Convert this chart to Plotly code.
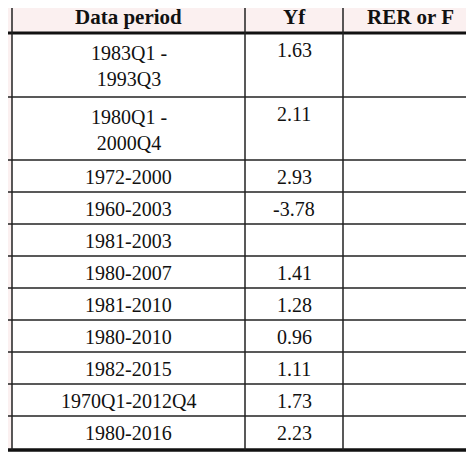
import plotly.graph_objects as go

headers = ["Data period", "Yf", "RER or F"]
periods = ["1983Q1 -<br>1993Q3", "1980Q1 -<br>2000Q4", "1972-2000", "1960-2003", "1981-2003",
           "1980-2007", "1981-2010", "1980-2010", "1982-2015", "1970Q1-2012Q4", "1980-2016"]
yf = ["1.63", "2.11", "2.93", "-3.78", "", "1.41", "1.28", "0.96", "1.11", "1.73", "2.23"]
rer = ["-0.32", "", "-0.39", "", "-0.66", "<b>-0.34</b>", "-0.86", "-0.30", "-0.42", "0.31", "-0.80"]
row_heights = [64, 63, 32, 32, 32, 32, 32, 32, 32, 32, 32]
footnote = "t coefficient."

cols = [12, 245, 343, 490]
top = 33
FONT = "Liberation Serif"
pink = "#fbf0f0"
OFF = 8  # page body margin compensation

shapes = [
    dict(type="rect", x0=-10, x1=490, y0=-10, y1=top, fillcolor=pink, line_width=0, layer="below"),
    dict(type="rect", x0=-10, x1=cols[0], y0=-10, y1=450, fillcolor=pink, line_width=0, layer="below"),
]
ann = []
for i, h in enumerate(headers):
    x0, x1 = cols[i], cols[i + 1]
    ann.append(dict(x=(x0 + x1) / 2 if i < 2 else 365, y=top / 2, text=f"<b>{h}</b>",
                    xanchor="center" if i < 2 else "left", font=dict(size=21)))
y = top
bounds = []
for p, a, r, h in zip(periods, yf, rer, row_heights):
    yc = y + h / 2
    ty = y + 16 if h > 40 else yc
    ann.append(dict(x=(cols[0] + cols[1]) / 2, y=yc + 1, text=p, xanchor="center", font=dict(size=20)))
    ann.append(dict(x=(cols[1] + cols[2]) / 2, y=ty + 1, text=a, xanchor="center", font=dict(size=20)))
    ann.append(dict(x=488, y=ty + 1, text=r, xanchor="right", font=dict(size=20)))
    y += h
    bounds.append(y)
for b in bounds[:-1]:
    shapes.append(dict(type="line", x0=-10, x1=490, y0=b, y1=b, line=dict(color="#222", width=1.5)))
shapes.append(dict(type="line", x0=-10, x1=490, y0=top, y1=top, line=dict(color="#111", width=3)))
shapes.append(dict(type="line", x0=-10, x1=490, y0=450, y1=450, line=dict(color="#111", width=3.5)))
for c in cols[:3]:
    shapes.append(dict(type="line", x0=c, x1=c, y0=-10, y1=450, line=dict(color="#222", width=1.5)))
ann.append(dict(x=2, y=462, text=footnote, xanchor="left", font=dict(size=15)))

for a in ann:
    a.update(xref="x", yref="y", showarrow=False, yanchor="middle")
    a["font"].update(family=FONT, color="#111")

fig = go.Figure()
fig.update_layout(width=474, height=474, margin=dict(l=0, r=0, t=0, b=0),
                  paper_bgcolor="white", plot_bgcolor="white", showlegend=False,
                  shapes=shapes, annotations=ann,
                  xaxis=dict(range=[OFF, 474 + OFF], visible=False, fixedrange=True),
                  yaxis=dict(range=[474 + OFF, OFF], visible=False, fixedrange=True))
fig.write_html("out.html")
